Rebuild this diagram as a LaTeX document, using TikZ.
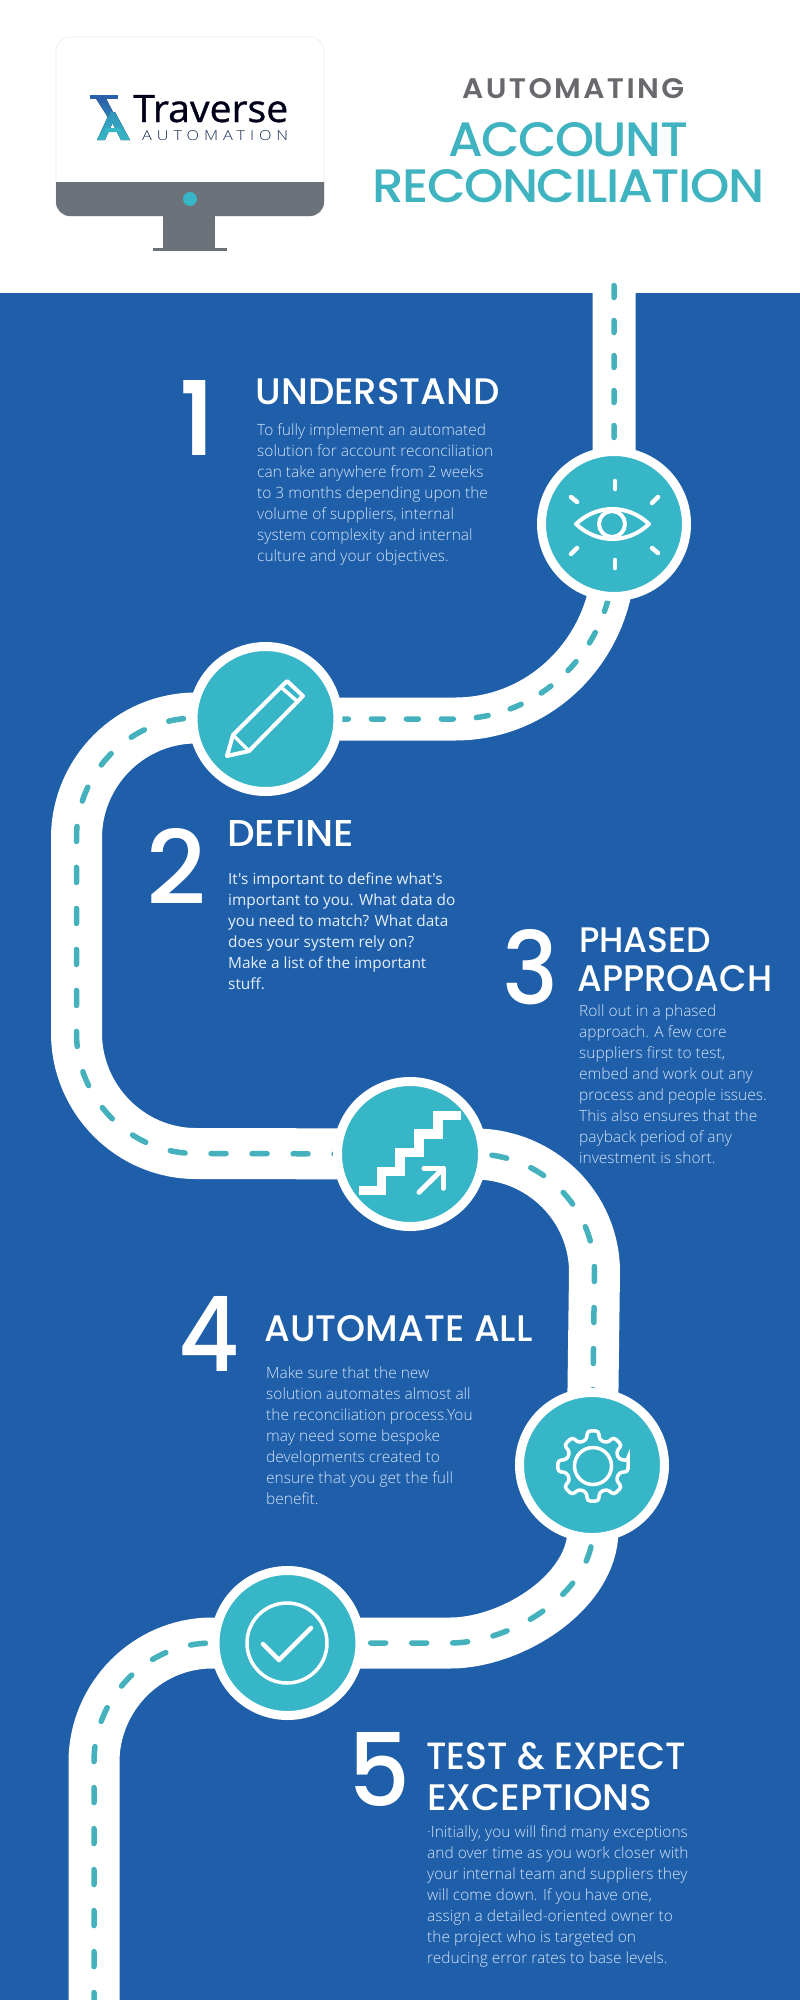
\documentclass[tikz,border=0pt]{standalone}
\usepackage{fontspec}
\usepackage{graphicx}
\setmainfont{Open Sans}
\IfFontExistsTF{Open Sans Light}{\newfontfamily\bodylight{Open Sans Light}}{\newfontfamily\bodylight{Open Sans}}
\newfontfamily\bodyreg{Open Sans}
\newfontfamily\logofont[FakeBold=0.9]{Open Sans}
\IfFontExistsTF{Poppins Medium}{\newfontfamily\headfont{Poppins Medium}}{\newfontfamily\headfont{Poppins}}
\IfFontExistsTF{Poppins Medium}{\newfontfamily\titlefont[LetterSpace=-3]{Poppins Medium}}{\newfontfamily\titlefont[LetterSpace=-3]{Poppins}}
\IfFontExistsTF{Poppins SemiBold}{\newfontfamily\subfont[LetterSpace=8]{Poppins SemiBold}}{\newfontfamily\subfont[LetterSpace=8]{Poppins}}
\IfFontExistsTF{Poppins SemiBold}{\newfontfamily\onefont{Poppins SemiBold}}{\newfontfamily\onefont{Poppins}}
\newcommand{\fitbox}[3]{\resizebox{#1pt}{#2pt}{#3}}
\pgfdeclarelayer{bg}
\pgfsetlayers{bg,main}
\definecolor{bluebg}{HTML}{1F5EA9}
\definecolor{tealc}{HTML}{36B6C6}
\definecolor{dashc}{HTML}{44B1BC}
\definecolor{greyc}{HTML}{6C7279}
\definecolor{titlec}{HTML}{3FB3C0}
\definecolor{subc}{HTML}{67696D}
\definecolor{logoblue}{HTML}{2A5FAB}
\definecolor{bodyc}{HTML}{D4E5F8}
\tikzset{
  stopc/.style={circle,draw=white,fill=tealc,inner sep=0pt,minimum size=145pt,line width=9pt},
  head/.style={anchor=base west,inner sep=0pt,text=white,font=\headfont},
  body/.style={anchor=base west,inner sep=0pt,text=bodyc,align=left,font=\bodylight\fontsize{15.5}{21}\selectfont},
  roadway/.style args={#1/#2/#3}{draw=white,line width=#1 pt,postaction={draw=dashc,line width=5.5pt,line cap=round,dash pattern=on #2pt off #3pt}},
  icon/.style={draw=white,line width=4pt,line cap=round,line join=round},
}
\begin{document}
\begin{tikzpicture}[x=1pt,y=-1pt]
\path[use as bounding box] (0,0) rectangle (800,2000);
% stops
\node[stopc] (n1) at (614,524) {};
\node[stopc] (n2) at (265.5,719) {};
\node[stopc] (n3) at (410,1154) {};
\node[stopc] (n4) at (592,1465) {};
\node[stopc] (n5) at (287.5,1643) {};
\coordinate (roadtop) at (614,285.5);
\coordinate (roadend) at (94,2010);
\begin{pgfonlayer}{bg}
\fill[white] (0,0) rectangle (800,293);
\fill[bluebg] (0,293) rectangle (800,2000);
\path[roadway=43/12/23] (roadtop) -- (n1.center) -- (614,555) .. controls (614,646) and (543,719) .. (455,719) -- (n2.center);
\path[roadway=51/15/26] (n2.center) -- (196,718) .. controls (130,718) and (76.5,772) .. (76.5,838) -- (76.5,1033) .. controls (76.5,1099) and (130,1153.5) .. (196,1153.5) -- (n3.center);
\path[roadway=51/15/26] (n3.center) -- (475,1154) .. controls (541,1154) and (594.5,1207) .. (594.5,1272) -- (n4.center);
\path[roadway=51/15/26] (n4.center) -- (593,1530) .. controls (593,1592) and (512,1643) .. (450,1643) -- (n5.center);
\path[roadway=51/15/26] (n5.center) -- (212,1643) .. controls (147,1643) and (94,1697) .. (94,1762) -- (roadend);
\end{pgfonlayer}
% monitor
\draw[draw=black!8,fill=white,rounded corners=14pt,line width=0.6pt] (56,37) rectangle (324,216);
\fill[greyc] (56,182) -- (324,182) [rounded corners=14pt] -- (324,216) -- (56,216) [sharp corners] -- cycle;
\fill[greyc] (163,216) rectangle (215,248);
\fill[greyc] (152.5,248) rectangle (227,251);
\node[circle,fill=tealc,inner sep=0pt,minimum size=14pt] (screendot) at (190,199) {};
% logo mark
\fill[top color=logoblue,bottom color=logoblue!55!tealc] (96,98.5) -- (106,98.5) -- (114,114) -- (109,119) -- cycle;
\fill[top color=logoblue!40!tealc,bottom color=tealc] (110,112) -- (115,112) -- (130,140) -- (121,140) -- (112.5,123) -- (105,140) -- (97,140) -- cycle;
\fill[tealc] (106,128) -- (120,128) -- (122,132) -- (104,132) -- cycle;
\fill[logoblue] (90,95) rectangle (117.5,98.5);
\node[anchor=base west,inner sep=0pt,text=black!90!blue,font=\logofont] (logotext) at (133,122) {\fitbox{155}{27}{Traverse}};
\node[anchor=base west,inner sep=0pt,text=black!50!logoblue,font=\bodylight\addfontfeature{LetterSpace=30}] (logosub) at (142,140) {\fitbox{146}{10}{AUTOMATION}};
% titles
\node[anchor=base west,inner sep=0pt,text=subc,font=\subfont] (sub) at (462,98) {\fitbox{222}{20}{AUTOMATING}};
\node[anchor=base west,inner sep=0pt,text=titlec,font=\titlefont] (t1) at (448,156) {\fitbox{240}{34}{ACCOUNT}};
\node[anchor=base west,inner sep=0pt,text=titlec,font=\titlefont] (t2) at (372,202) {\fitbox{392}{33}{RECONCILIATION}};
% section 1
\node[head,font=\onefont] (num1) at (180.5,455) {\fitbox{33}{75}{1}};
\node[head] (h1) at (255.5,404) {\fitbox{244}{26}{UNDERSTAND}};
\node[body] (b1) at (257,561) {To fully implement an automated\\solution for account reconciliation\\can take anywhere from 2 weeks\\to 3 months depending upon the\\volume of suppliers, internal\\system complexity and internal\\culture and your objectives.};
% section 2
\node[head] (num2) at (146,904) {\fitbox{60}{76}{2}};
\node[head] (h2) at (227,846) {\fitbox{127}{26}{DEFINE}};
\node[body,font=\bodyreg\fontsize{15.4}{21}\selectfont,text=bodyc!60!white] (b2) at (228,989) {It's important to define what's\\important to you. What data do\\you need to match? What data\\does your system rely on?\\Make a list of the important\\stuff.};
% section 3
\node[head] (num3) at (502,1004) {\fitbox{56}{75}{3}};
\node[head] (h3a) at (579,952) {\fitbox{132}{25}{PHASED}};
\node[head] (h3b) at (577,991) {\fitbox{195}{26}{APPROACH}};
\node[body] (b3) at (579,1163) {Roll out in a phased\\approach. A few core\\suppliers first to test,\\embed and work out any\\process and people issues.\\This also ensures that the\\payback period of any\\investment is short.};
% section 4
\node[head] (num4) at (178,1371) {\fitbox{61}{75}{4}};
\node[head] (h4) at (264.5,1341) {\fitbox{268}{26}{AUTOMATE ALL}};
\node[body] (b4) at (266,1504) {Make sure that the new\\solution automates almost all\\the reconciliation process.You\\may need some bespoke\\developments created to\\ensure that you get the full\\benefit.};
% section 5
\node[head] (num5) at (348,1806) {\fitbox{62}{74}{5}};
\node[head] (h5a) at (426,1769) {\fitbox{260}{27}{TEST \& EXPECT}};
\node[head] (h5b) at (427,1810) {\fitbox{225}{26}{EXCEPTIONS}};
\node[body] (b5) at (427,1963) {·Initially, you will find many exceptions\\and over time as you work closer with\\your internal team and suppliers they\\will come down. If you have one,\\assign a detailed-oriented owner to\\the project who is targeted on\\reducing error rates to base levels.};
% eye icon
\draw[icon] (576,524) .. controls (597,504) and (628,504) .. (649,524) .. controls (628,544) and (597,544) .. (576,524) -- cycle;
\draw[icon] (612,524) circle[radius=13];
\draw[icon,line width=4.5pt] (615,481) -- (615,489);
\draw[icon,line width=4.5pt] (615,560) -- (615,568);
\draw[icon,line width=4.5pt] (571,497) -- (577,502);
\draw[icon,line width=4.5pt] (658,497) -- (652,503);
\draw[icon,line width=4.5pt] (577,548) -- (571,554);
\draw[icon,line width=4.5pt] (652,548) -- (658,553);
% pencil icon
\draw[icon] (227,756) -- (233,735) -- (287,681) -- (303,696) -- (249,751) -- cycle;
\draw[icon,line width=3.5pt] (233,735) -- (249,751);
\draw[icon,line width=3.5pt] (282,688) -- (298,702);
% stairs icon
\begin{scope}[shift={(320,1060)},x=0.3333pt,y=-0.3333pt]
\draw[draw=white,line width=9.5pt,miter limit=10] (117,392) -- (184,392) -- (184,335) -- (240,335) -- (240,278) -- (297,278) -- (297,222) -- (354,222) -- (354,166) -- (422,166);
\draw[icon,line width=5pt] (297,397) -- (370,325);
\draw[icon,line width=5pt] (312,325) -- (370,325) -- (370,385);
\end{scope}
% gear icon
\begin{scope}[shift={(593,1466)}]
\draw[draw=white,line width=3.5pt,rounded corners=3pt] (-9:35.5) \foreach \a in {0,45,...,315} { -- (\a-9:35.5) -- (\a+9:35.5) -- (\a+14:27) -- (\a+31:27) } -- cycle;
\draw[draw=white,line width=3.5pt] (0,0) circle[radius=18.5];
\end{scope}
% check icon
\draw[draw=white,line width=3.5pt] (287,1643) circle[radius=40];
\draw[icon,line width=4.5pt] (263,1644) -- (279,1660) -- (311,1628);
\end{tikzpicture}
\end{document}
